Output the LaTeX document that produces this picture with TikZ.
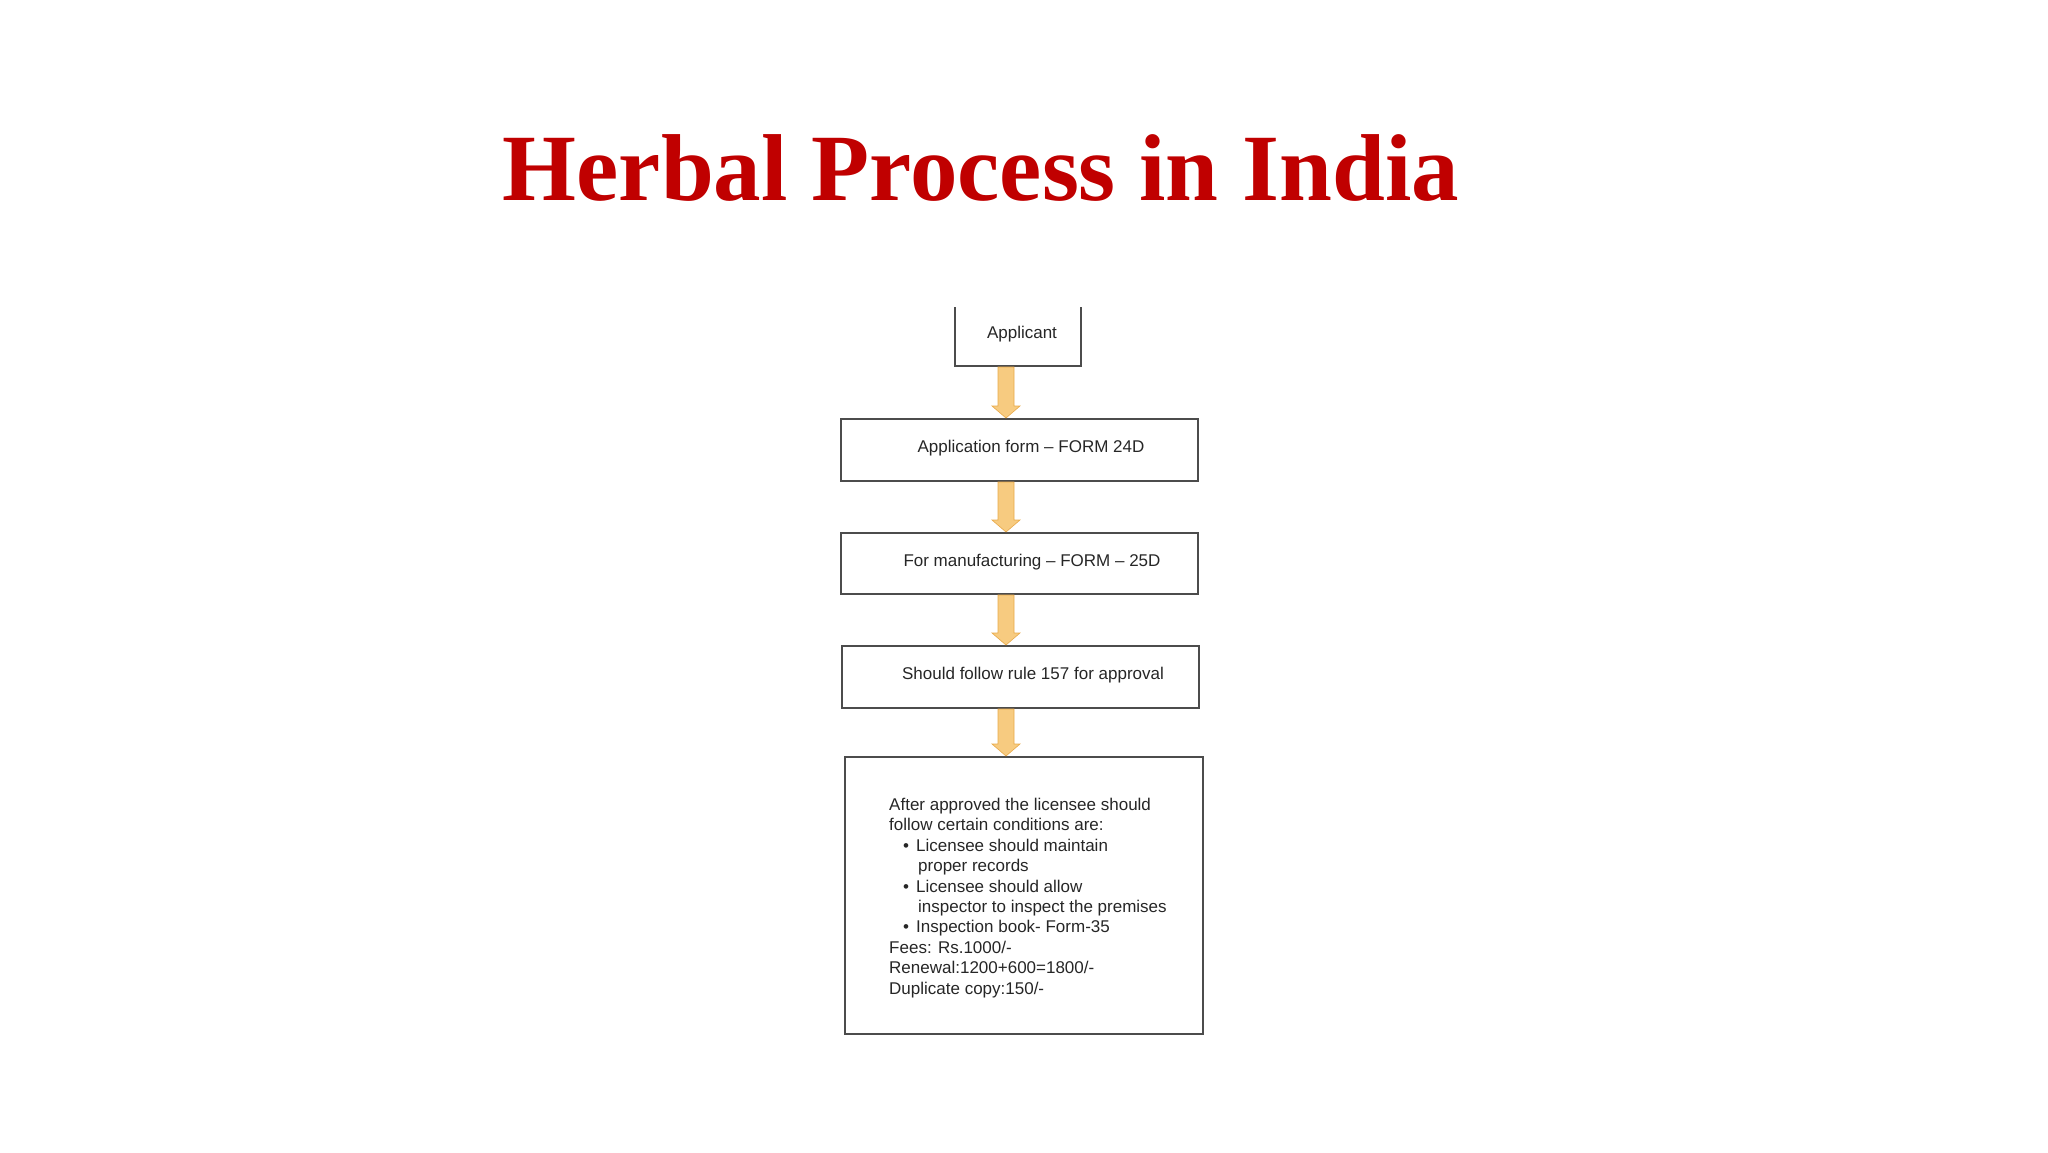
\documentclass[tikz,border=0pt]{standalone}
\usepackage{fontspec}
\setmainfont{Liberation Sans}
\newfontfamily\titlefont{Liberation Serif}
\definecolor{ttl}{HTML}{C00000}
\definecolor{arrf}{HTML}{F7CB80}
\definecolor{arrd}{HTML}{E8A94A}
\begin{document}
\begin{tikzpicture}[x=1pt,y=-1pt,
  bx/.style={draw=black!70,line width=1.3pt},
  txt/.style={font=\fontsize{17}{20.4}\selectfont,text=black!85,inner sep=0pt},
  flowarrow/.style={fill=arrf,draw=arrd,line width=0.6pt}]
\useasboundingbox (0,0) rectangle (2048,1152);
\node[font=\titlefont\bfseries\fontsize{95}{100}\selectfont,text=ttl,anchor=base] (title) at (981,200) {Herbal Process in India};
% boxes
\draw[bx] (955,307) -- (955,366) -- (1081,366) -- (1081,307);
\coordinate (a1) at (1018,336);
\node[txt] (n1) at (1022,334) {Applicant};
\draw[bx] (841,419) rectangle (1198,481);
\node[txt] (n2) at (1031,448) {Application form – FORM 24D};
\draw[bx] (841,533) rectangle (1198,594);
\node[txt] (n3) at (1032,562) {For manufacturing – FORM – 25D};
\draw[bx] (842,646) rectangle (1199,708);
\node[txt] (n4) at (1033,675) {Should follow rule 157 for approval};
\draw[bx] (845,757) rectangle (1203,1034);
\node[txt,anchor=north west,align=left] (n5) at (889,798) {After approved the licensee should\\follow certain conditions are:\\
\hspace*{14pt}•\hspace*{7pt}Licensee should maintain\\\hspace*{29pt}proper records\\
\hspace*{14pt}•\hspace*{7pt}Licensee should allow\\\hspace*{29pt}inspector to inspect the premises\\
\hspace*{14pt}•\hspace*{7pt}Inspection book- Form-35\\
Fees: Rs.1000/-\\Renewal:1200+600=1800/-\\Duplicate copy:150/-};
% arrows
\foreach \t/\b in {367/418,482/532,595/645,709/756}{
  \draw[flowarrow] (998,\t) -- (1014,\t) -- (1014,\b-12) -- (1020,\b-12) -- (1006,\b) -- (992,\b-12) -- (998,\b-12) -- cycle;
}
\end{tikzpicture}
\end{document}
